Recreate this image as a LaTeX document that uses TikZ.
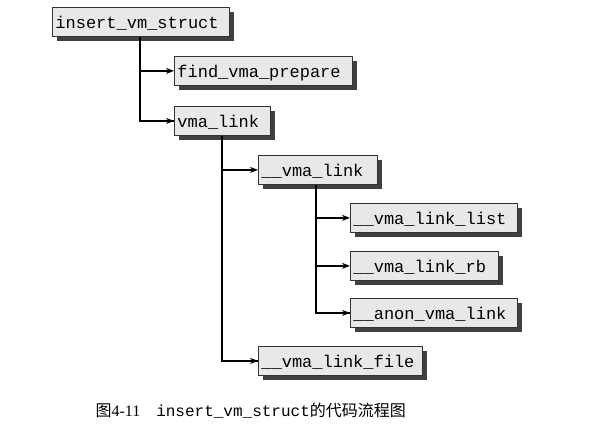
\documentclass[tikz,border=0pt]{standalone}
\usepackage{fontspec}
\setmonofont{Liberation Mono}
\setmainfont{Liberation Serif}
\newfontfamily\cjk{Noto Sans CJK SC}
\usetikzlibrary{arrows.meta,shadows}
\begin{document}
\begin{tikzpicture}[x=1pt,y=-1pt,
  box/.style={draw=black!80,line width=0.8pt,fill=gray!18,font=\ttfamily\fontsize{17}{19}\selectfont,
    anchor=north west,minimum height=29pt,inner xsep=3pt,inner ysep=0pt,align=left,text depth=0pt,
    drop shadow={shadow xshift=5pt,shadow yshift=-5pt,fill=black!75,opacity=1}},
  conn/.style={line width=1.3pt,-{Stealth[length=8pt,width=6pt]}}]
\useasboundingbox (0,0) rectangle (600,438);
\node[box,text width=171pt] (ivs) at (52,7) {insert\_vm\_struct};
\node[box,text width=172pt] (fvp) at (174,56) {find\_vma\_prepare};
\node[box,text width=90pt] (vl) at (174,106) {vma\_link};
\node[box,text width=113pt] (uvl) at (258,155) {\_\_vma\_link};
\node[box,text width=161pt] (vll) at (350,203) {\_\_vma\_link\_list};
\node[box,text width=142pt] (vlr) at (350,251) {\_\_vma\_link\_rb};
\node[box,text width=161pt] (avl) at (350,298) {\_\_anon\_vma\_link};
\node[box,text width=158pt] (vlf) at (258,346) {\_\_vma\_link\_file};
\draw[line width=1.3pt] (ivs.south -| 140,0) |- (vl.west);
\draw[conn] (140,0 |- vl.west) -- (vl.west);
\draw[conn] (140,0 |- fvp.west) -- (fvp.west);
\draw[line width=1.3pt] (vl.south -| 222,0) |- (vlf.west);
\draw[conn] (222,0 |- vlf.west) -- (vlf.west);
\draw[conn] (222,0 |- uvl.west) -- (uvl.west);
\draw[line width=1.3pt] (uvl.south -| 316,0) |- (avl.west);
\draw[conn] (316,0 |- avl.west) -- (avl.west);
\draw[conn] (316,0 |- vlr.west) -- (vlr.west);
\draw[conn] (316,0 |- vll.west) -- (vll.west);
\node[anchor=west,font=\fontsize{16}{18}\selectfont] (cap) at (92,411) {\cjk 图\rmfamily 4-11\quad\ttfamily insert\_vm\_struct\cjk 的代码流程图};
\end{tikzpicture}
\end{document}
